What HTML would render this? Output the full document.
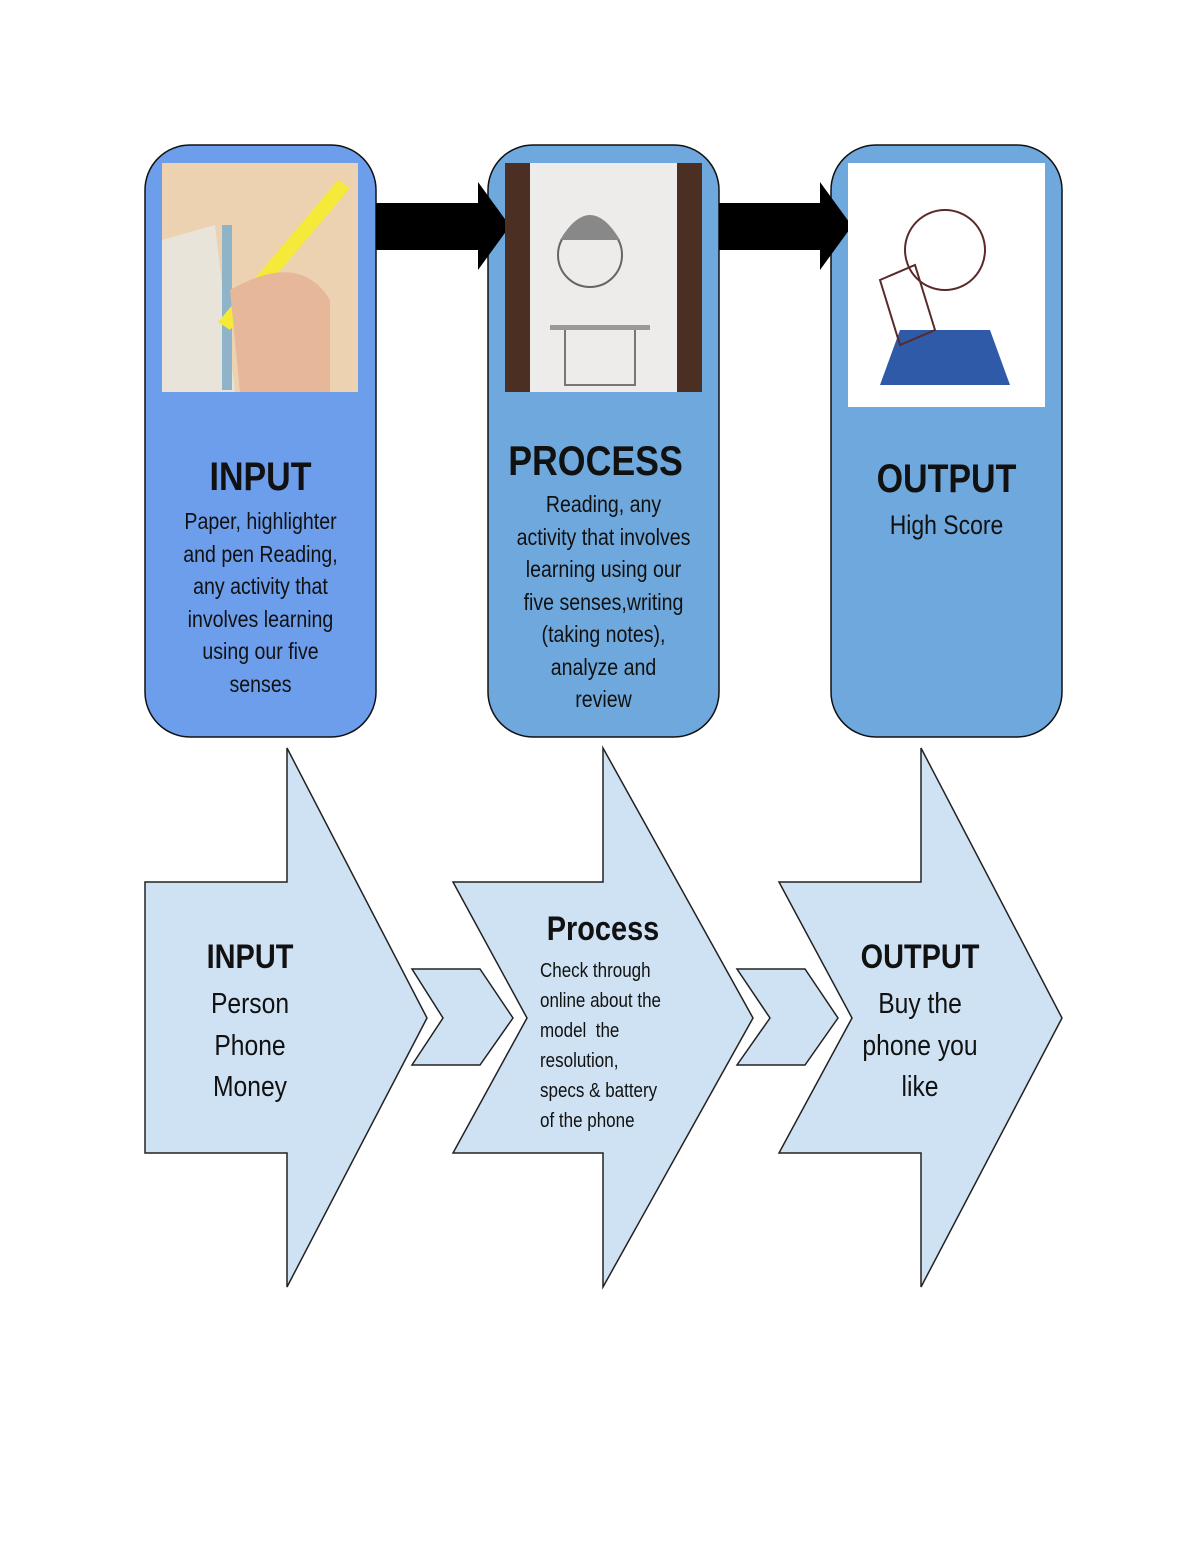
<!DOCTYPE html>
<html><head><meta charset="utf-8"><style>
html,body{margin:0;padding:0;background:#fff}
body{width:1200px;height:1553px;position:relative;overflow:hidden;font-family:"Liberation Sans",Arial,sans-serif}
.t{position:absolute;text-align:center;color:#111;transform:scaleX(0.85);transform-origin:center top;white-space:nowrap}
</style></head><body>
<svg width="1200" height="1553" style="position:absolute;left:0;top:0">
<rect x="145" y="145" width="231" height="592" rx="45" fill="#6d9eeb" stroke="#111" stroke-width="1.5"/>
<rect x="488" y="145" width="231" height="592" rx="45" fill="#6fa8dc" stroke="#111" stroke-width="1.5"/>
<rect x="831" y="145" width="231" height="592" rx="45" fill="#6fa8dc" stroke="#111" stroke-width="1.5"/>
<polygon points="376,203 478,203 478,182 510,226 478,270 478,250 376,250" fill="#000"/>
<polygon points="719,203 820,203 820,182 852,226 820,270 820,250 719,250" fill="#000"/>
<rect x="162" y="163" width="196" height="229" fill="#ecd2b0"/>
<polygon points="162,240 215,225 235,392 162,392" fill="#e8e4da"/>
<rect x="222" y="225" width="10" height="165" fill="#8fb4c9"/>
<polygon points="338,180 350,188 230,330 218,322" fill="#f5e93a"/>
<path d="M230,290 Q300,250 330,300 L330,392 L240,392 Z" fill="#e7b79a"/>
<rect x="505" y="163" width="197" height="229" fill="#4a2f22"/>
<rect x="530" y="163" width="147" height="229" fill="#eeecea"/>
<circle cx="590" cy="255" r="32" fill="none" stroke="#666" stroke-width="2"/>
<path d="M560,240 Q590,190 620,240 Z" fill="#888"/>
<rect x="550" y="325" width="100" height="5" fill="#999"/>
<path d="M565,330 L565,385 L635,385 L635,330" fill="none" stroke="#777" stroke-width="2"/>
<rect x="848" y="163" width="197" height="244" fill="#fff"/>
<circle cx="945" cy="250" r="40" fill="none" stroke="#5a2a2a" stroke-width="2"/>
<path d="M900,330 L990,330 L1010,385 L880,385 Z" fill="#2e5aa8"/>
<polygon points="880,280 915,265 935,330 900,345" fill="none" stroke="#5a2a2a" stroke-width="2"/>
<g fill="#cfe2f3" stroke="#222" stroke-width="1.5">
<polygon points="145,882 287,882 287,748 427,1018 287,1287 287,1153 145,1153"/>
<polygon points="453,882 603,882 603,748 753,1018 603,1287 603,1153 453,1153 527,1018"/>
<polygon points="779,882 921,882 921,748 1062,1018 921,1287 921,1153 779,1153 852,1018"/>
<polygon points="412,969 480,969 513,1018 480,1065 412,1065 443,1018"/>
<polygon points="737,969 805,969 838,1018 805,1065 737,1065 770,1018"/>
</g>
</svg>
<div class="t" style="left:145px;width:231px;top:455px;font-size:40px;font-weight:bold">INPUT</div>
<div class="t" style="left:155px;width:211px;top:505px;font-size:23px;line-height:32.5px">Paper, highlighter<br>and pen Reading,<br>any activity that<br>involves learning<br>using our five<br>senses</div>
<div class="t" style="left:488px;width:215px;top:437px;font-size:42px;font-weight:bold">PROCESS</div>
<div class="t" style="left:493px;width:221px;top:488px;font-size:23px;line-height:32.5px">Reading, any<br>activity that involves<br>learning using our<br>five senses,writing<br>(taking notes),<br>analyze and<br>review</div>
<div class="t" style="left:831px;width:231px;top:457px;font-size:40px;font-weight:bold">OUTPUT</div>
<div class="t" style="left:831px;width:231px;top:510px;font-size:27px">High Score</div>
<div class="t" style="left:150px;width:200px;top:938px;font-size:34px;font-weight:bold">INPUT</div>
<div class="t" style="left:150px;width:200px;top:984px;font-size:29px;line-height:41.5px">Person<br>Phone<br>Money</div>
<div class="t" style="left:503px;width:200px;top:910px;font-size:34px;font-weight:bold">Process</div>
<div class="t" style="left:540px;width:180px;top:956px;font-size:20px;line-height:30px;text-align:left;transform-origin:left top">Check through<br>online about the<br>model &nbsp;the<br>resolution,<br>specs &amp; battery<br>of the phone</div>
<div class="t" style="left:820px;width:200px;top:938px;font-size:34px;font-weight:bold">OUTPUT</div>
<div class="t" style="left:820px;width:200px;top:984px;font-size:29px;line-height:41.5px">Buy the<br>phone you<br>like</div>
</body></html>
